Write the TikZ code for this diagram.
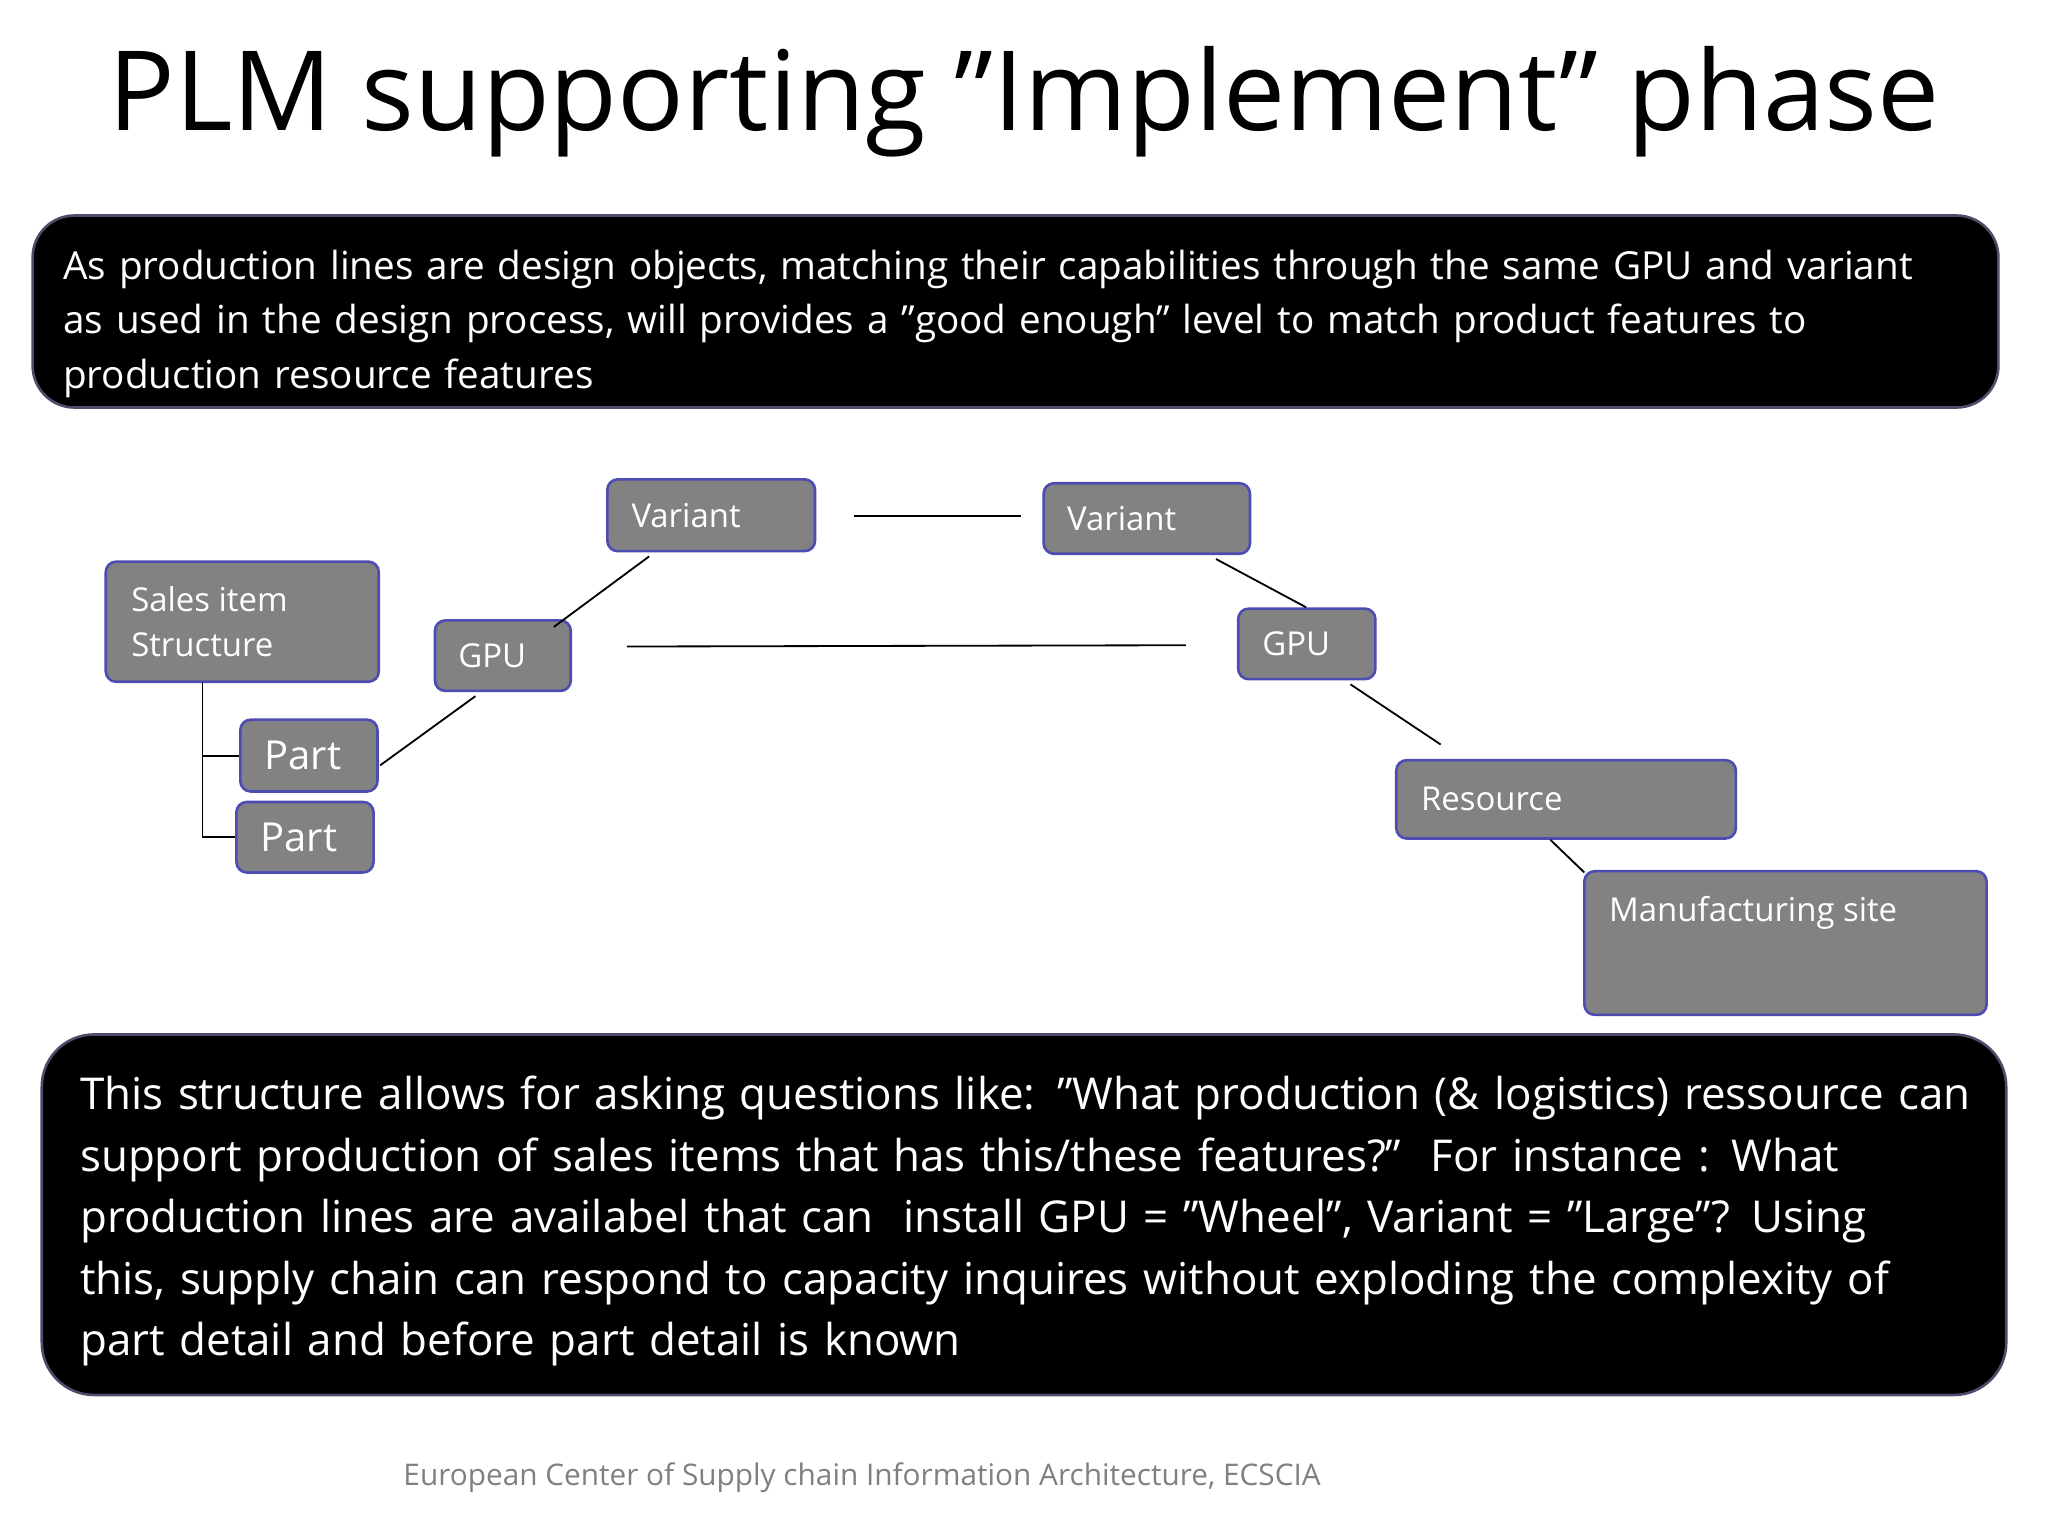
\documentclass[tikz,border=0pt]{standalone}
\usepackage{fontspec}
\setmainfont{Open Sans}
\begin{document}
\begin{tikzpicture}[x=0.5pt,y=-0.5pt,
  bigbox/.style={draw=black!70!blue!40!gray,line width=1pt,fill=black,rounded corners=16pt,inner sep=0pt},
  bigtext/.style={text=white,align=left,inner sep=0pt,anchor=west},
  gbox/.style={draw=blue!40!gray,line width=1pt,fill=gray!98,text=white,rounded corners=4pt,align=flush left,inner sep=0pt,font=\fontsize{12.6pt}{18.5pt}\selectfont},
  ln/.style={line width=0.7pt}]
\useasboundingbox (0,0) rectangle (1568,1176);
\node[font=\fontsize{42.4pt}{50pt}\selectfont] (title) at (784,78) {PLM supporting ”Implement” phase};
\node[bigbox,minimum width=752.5pt,minimum height=73.5pt] (top) at (777.5,238.5) {};
\node[bigtext,text width=735pt,font=\fontsize{14.8pt}{21pt}\selectfont] (toptext) at (48,248) {As production lines are design objects, matching their capabilities through the same GPU and variant\\as used in the design process, will provides a ”good enough” level to match product features to\\production resource features};
\node[bigbox,rounded corners=20pt,minimum width=752pt,minimum height=138pt] (bot) at (784,930) {};
\node[bigtext,text width=735pt,font=\fontsize{16.8pt}{23.5pt}\selectfont] (bottext) at (61,935) {This structure allows for asking questions like: ”What production (\& logistics) ressource can\\support production of sales items that has this/these features?”\ \ For instance : What\\production lines are availabel that can\ \ install GPU = ”Wheel”, Variant = ”Large”? Using\\this, supply chain can respond to capacity inquires without exploding the complexity of\\part detail and before part detail is known};
\node[text=gray,font=\fontsize{11.4pt}{14pt}\selectfont] (foot) at (660,1131) {European Center of Supply chain Information Architecture, ECSCIA};
% grey nodes
\node[gbox,minimum width=79.5pt,minimum height=27.5pt,text width=61pt] (v1) at (544.5,394.5) {Variant};
\node[gbox,minimum width=79pt,minimum height=27pt,text width=61pt] (v2) at (878,397) {Variant};
\node[gbox,minimum width=104.5pt,minimum height=46pt,text width=85pt] (sis) at (185.5,476) {Sales item\\[-1pt]Structure};
\node[gbox,minimum width=52pt,minimum height=27pt,text width=34pt] (g1) at (385,502) {\raisebox{-2pt}{GPU}};
\node[gbox,minimum width=52.5pt,minimum height=27pt,text width=34pt] (g2) at (1000.5,493) {GPU};
\node[gbox,minimum width=52.5pt,minimum height=27.5pt,text width=34pt,font=\fontsize{15.3pt}{20pt}\selectfont] (p1) at (236.5,578.5) {Part};
\node[gbox,minimum width=52.5pt,minimum height=27pt,text width=34pt,font=\fontsize{15.3pt}{20pt}\selectfont] (p2) at (233.5,641) {Part};
\node[gbox,minimum width=130pt,minimum height=30pt,text width=111pt] (res) at (1199,612) {Resource};
\node[gbox,minimum width=154pt,minimum height=55pt,text width=135pt,text depth=26pt] (mfg) at (1367,722) {Manufacturing site};
% connectors
\coordinate (a1) at (654,395); \coordinate (a2) at (782,395);
\draw[ln] (a1) -- (a2);
\coordinate (b1) at (480,495); \coordinate (b2) at (908,494);
\draw[ln] (b1) -- (b2);
\coordinate (c1) at (497,426); \coordinate (c2) at (424,480);
\draw[ln] (c1) -- (c2);
\coordinate (d1) at (931,428); \coordinate (d2) at (1000,465);
\draw[ln] (d1) -- (d2);
\coordinate (e1) at (1034,524); \coordinate (e2) at (1103,570);
\draw[ln] (e1) -- (e2);
\coordinate (f1) at (1187,643); \coordinate (f2) at (1213,668);
\draw[ln] (f1) -- (f2);
\coordinate (h1) at (291,586); \coordinate (h2) at (364,533);
\draw[ln] (h1) -- (h2);
\coordinate (s1) at (155,522);
\draw[ln] (s1) |- (p2.west);
\draw[ln] (s1 |- p1.west) -- (p1.west);
\end{tikzpicture}
\end{document}
